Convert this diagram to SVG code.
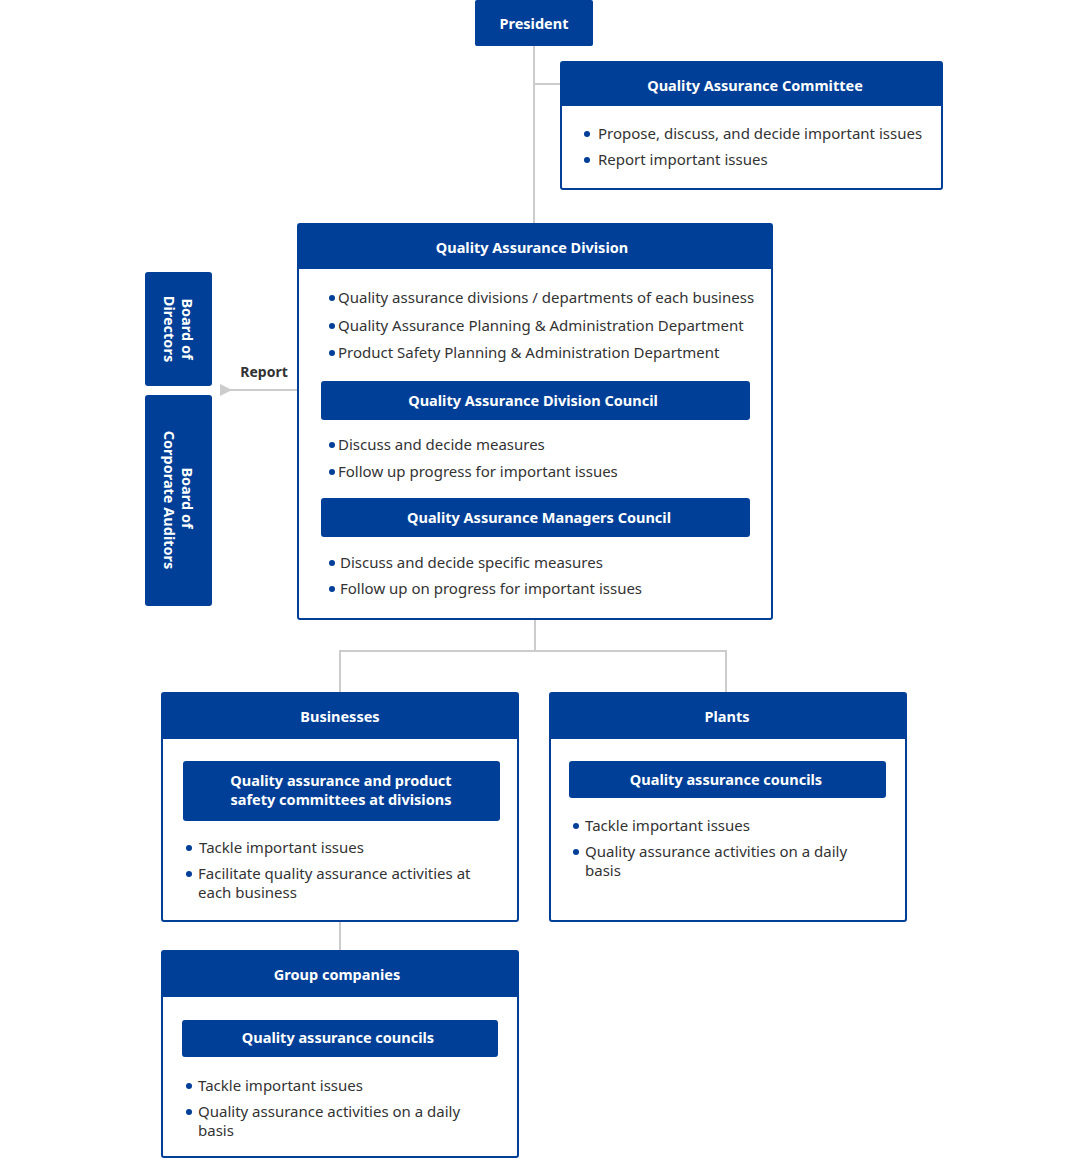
<svg xmlns="http://www.w3.org/2000/svg" width="1080" height="1169" viewBox="0 0 1080 1169">
<style>
text{font-family:"Noto Sans","Liberation Sans",sans-serif;}
.h{fill:#fff;font-size:14.5px;font-weight:bold;text-anchor:middle;}
.t{fill:#333;font-size:15px;}
.box{fill:#fff;stroke:#003f98;stroke-width:2;}
.bl{fill:#003f98;}
.c{fill:none;stroke:#ccc;stroke-width:2;}
.d{fill:#003f98;}
</style>
<defs><marker id="ar" markerWidth="12" markerHeight="12" refX="2" refY="6" orient="auto" markerUnits="userSpaceOnUse"><path d="M12,0 L0,6 L12,12 Z" fill="#ccc"/></marker></defs>
<g id="connectors">
<path class="c" d="M534,46 V224 M534,84 H561"/>
<path class="c" d="M535,619 V651 M340,693 V651 H726 V693"/>
<path class="c" d="M340,921 V951"/>
<path class="c" d="M298,390 H230" marker-end="url(#ar)"/>
<text x="264" y="377" text-anchor="middle" style="font-size:14px;font-weight:bold;fill:#333">Report</text>
</g>
<g id="president"><rect class="bl" x="475" y="0" width="118" height="46" rx="2"/><text class="h" x="534" y="29">President</text></g>
<g id="qac"><rect class="box" x="561" y="62" width="381" height="127" rx="2"/><rect class="bl" x="561" y="62" width="381" height="44"/><text class="h" x="755" y="91">Quality Assurance Committee</text>
<circle class="d" cx="587" cy="134" r="3"/><text class="t" x="598" y="139">Propose, discuss, and decide important issues</text>
<circle class="d" cx="587" cy="160" r="3"/><text class="t" x="598" y="165">Report important issues</text></g>
<g id="qad"><rect class="box" x="298" y="224" width="474" height="395" rx="2"/><rect class="bl" x="298" y="224" width="474" height="45"/><text class="h" x="532" y="253">Quality Assurance Division</text>
<circle class="d" cx="332" cy="298" r="3"/><text class="t" x="338" y="303">Quality assurance divisions / departments of each business</text>
<circle class="d" cx="332" cy="326" r="3"/><text class="t" x="338" y="331">Quality Assurance Planning &amp; Administration Department</text>
<circle class="d" cx="332" cy="353" r="3"/><text class="t" x="338" y="358">Product Safety Planning &amp; Administration Department</text>
<rect class="bl" x="321" y="381" width="429" height="39" rx="3"/><text class="h" x="533" y="406">Quality Assurance Division Council</text>
<circle class="d" cx="332" cy="445" r="3"/><text class="t" x="338" y="450">Discuss and decide measures</text>
<circle class="d" cx="332" cy="472" r="3"/><text class="t" x="338" y="477">Follow up progress for important issues</text>
<rect class="bl" x="321" y="498" width="429" height="39" rx="3"/><text class="h" x="539" y="523">Quality Assurance Managers Council</text>
<circle class="d" cx="332" cy="563" r="3"/><text class="t" x="340" y="568">Discuss and decide specific measures</text>
<circle class="d" cx="332" cy="589" r="3"/><text class="t" x="340" y="594">Follow up on progress for important issues</text></g>
<g id="bod"><rect class="bl" x="145" y="272" width="67" height="114" rx="3"/><text class="h" transform="translate(182,329) rotate(90)">Board of</text><text class="h" transform="translate(164,329) rotate(90)">Directors</text></g>
<g id="bca"><rect class="bl" x="145" y="395" width="67" height="211" rx="3"/><text class="h" transform="translate(182,498) rotate(90)">Board of</text><text class="h" transform="translate(164,500) rotate(90)">Corporate Auditors</text></g>
<g id="businesses"><rect class="box" x="162" y="693" width="356" height="228" rx="2"/><rect class="bl" x="162" y="693" width="356" height="46"/><text class="h" x="340" y="722">Businesses</text>
<rect class="bl" x="183" y="761" width="317" height="60" rx="3"/><text class="h" x="341" y="786">Quality assurance and product</text><text class="h" x="341" y="805">safety committees at divisions</text>
<circle class="d" cx="189" cy="848" r="3"/><text class="t" x="199" y="853">Tackle important issues</text>
<circle class="d" cx="189" cy="874" r="3"/><text class="t" x="198" y="879">Facilitate quality assurance activities at</text><text class="t" x="198" y="898">each business</text></g>
<g id="plants"><rect class="box" x="550" y="693" width="356" height="228" rx="2"/><rect class="bl" x="550" y="693" width="356" height="46"/><text class="h" x="727" y="722">Plants</text>
<rect class="bl" x="569" y="761" width="317" height="37" rx="3"/><text class="h" x="726" y="785">Quality assurance councils</text>
<circle class="d" cx="576" cy="826" r="3"/><text class="t" x="585" y="831">Tackle important issues</text>
<circle class="d" cx="576" cy="852" r="3"/><text class="t" x="585" y="857">Quality assurance activities on a daily</text><text class="t" x="585" y="876">basis</text></g>
<g id="group"><rect class="box" x="162" y="951" width="356" height="206" rx="2"/><rect class="bl" x="162" y="951" width="356" height="46"/><text class="h" x="337" y="980">Group companies</text>
<rect class="bl" x="182" y="1020" width="316" height="37" rx="3"/><text class="h" x="338" y="1043">Quality assurance councils</text>
<circle class="d" cx="189" cy="1086" r="3"/><text class="t" x="198" y="1091">Tackle important issues</text>
<circle class="d" cx="189" cy="1112" r="3"/><text class="t" x="198" y="1117">Quality assurance activities on a daily</text><text class="t" x="198" y="1136">basis</text></g>
</svg>
